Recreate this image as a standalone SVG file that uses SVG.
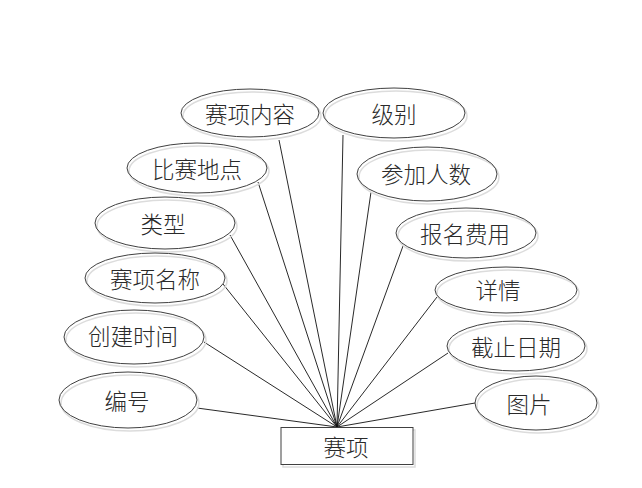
<svg xmlns="http://www.w3.org/2000/svg" width="642" height="488" viewBox="0 0 642 488">
<style>
.sh{fill:none;stroke:#dcdcdc;stroke-width:1.5}
.el{fill:none;stroke:#404040;stroke-width:1}
.ln{stroke:#111;stroke-width:0.9;fill:none}
.t{font-family:"Noto Sans CJK SC","Liberation Serif",serif;font-size:22.5px;font-weight:300;fill:#2a2a2a;text-anchor:middle;dominant-baseline:central}
</style>
<rect width="642" height="488" fill="#fff"/>
<g id="connectors">
<line class="ln" x1="279" y1="140" x2="337" y2="427"/>
<line class="ln" x1="343" y1="135" x2="337" y2="427"/>
<line class="ln" x1="258" y1="182" x2="337" y2="427"/>
<line class="ln" x1="230" y1="235" x2="337" y2="427"/>
<line class="ln" x1="223" y1="284" x2="337" y2="427"/>
<line class="ln" x1="204" y1="342" x2="337" y2="427"/>
<line class="ln" x1="197" y1="408" x2="337" y2="427"/>
<line class="ln" x1="371" y1="192" x2="337" y2="427"/>
<line class="ln" x1="403" y1="246" x2="337" y2="427"/>
<line class="ln" x1="437" y1="297" x2="337" y2="427"/>
<line class="ln" x1="448" y1="353" x2="337" y2="427"/>
<line class="ln" x1="475" y1="403" x2="337" y2="427"/>
</g>
<g id="entity">
<rect x="283" y="430" width="132" height="37" class="sh"/>
<rect x="281" y="427.5" width="132" height="37" fill="#fff" stroke="#404040" stroke-width="1"/>
<text class="t" x="346" y="446">赛项</text>
</g>
<g id="attr-neirong">
<ellipse class="sh" cx="252" cy="116" rx="69" ry="24"/>
<ellipse class="el" cx="250" cy="113" rx="69" ry="24"/>
<text class="t" x="250" y="113">赛项内容</text>
</g>
<g id="attr-jibie">
<ellipse class="sh" cx="396" cy="116" rx="71" ry="25"/>
<ellipse class="el" cx="394" cy="113" rx="71" ry="25"/>
<text class="t" x="394" y="113">级别</text>
</g>
<g id="attr-didian">
<ellipse class="sh" cx="199" cy="171" rx="70" ry="25"/>
<ellipse class="el" cx="197" cy="168" rx="70" ry="25"/>
<text class="t" x="197" y="168">比赛地点</text>
</g>
<g id="attr-leixing">
<ellipse class="sh" cx="167" cy="226" rx="70" ry="26"/>
<ellipse class="el" cx="165" cy="223" rx="70" ry="26"/>
<text class="t" x="163" y="223">类型</text>
</g>
<g id="attr-mingcheng">
<ellipse class="sh" cx="157" cy="281" rx="70" ry="25"/>
<ellipse class="el" cx="155" cy="278" rx="70" ry="25"/>
<text class="t" x="155" y="278">赛项名称</text>
</g>
<g id="attr-chuangjian">
<ellipse class="sh" cx="136" cy="340" rx="70" ry="27"/>
<ellipse class="el" cx="134" cy="337" rx="70" ry="27"/>
<text class="t" x="133" y="335">创建时间</text>
</g>
<g id="attr-bianhao">
<ellipse class="sh" cx="130" cy="403" rx="69" ry="28"/>
<ellipse class="el" cx="128" cy="400" rx="69" ry="28"/>
<text class="t" x="127" y="400">编号</text>
</g>
<g id="attr-renshu">
<ellipse class="sh" cx="429" cy="177" rx="70" ry="27"/>
<ellipse class="el" cx="427" cy="174" rx="70" ry="27"/>
<text class="t" x="426" y="173">参加人数</text>
</g>
<g id="attr-feiyong">
<ellipse class="sh" cx="468" cy="236" rx="70" ry="25"/>
<ellipse class="el" cx="466" cy="233" rx="70" ry="25"/>
<text class="t" x="465" y="233">报名费用</text>
</g>
<g id="attr-xiangqing">
<ellipse class="sh" cx="508" cy="293" rx="71" ry="23"/>
<ellipse class="el" cx="506" cy="290" rx="71" ry="23"/>
<text class="t" x="498" y="289">详情</text>
</g>
<g id="attr-jiezhi">
<ellipse class="sh" cx="518" cy="349" rx="69" ry="25"/>
<ellipse class="el" cx="516" cy="346" rx="69" ry="25"/>
<text class="t" x="516" y="346">截止日期</text>
</g>
<g id="attr-tupian">
<ellipse class="sh" cx="538" cy="406" rx="61" ry="27"/>
<ellipse class="el" cx="536" cy="403" rx="61" ry="27"/>
<text class="t" x="529" y="403">图片</text>
</g>
</svg>
